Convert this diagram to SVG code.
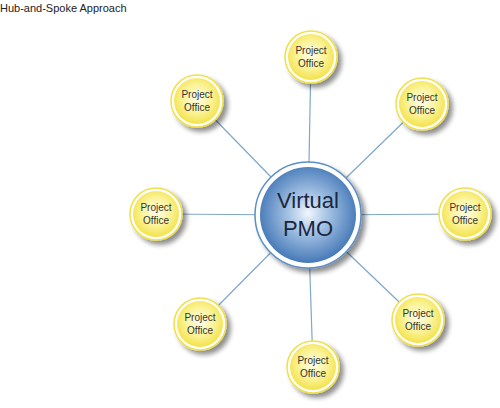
<svg xmlns="http://www.w3.org/2000/svg" width="500" height="408" viewBox="0 0 500 408">
<defs>
<radialGradient id="gy" cx="0.5" cy="0.45" r="0.55">
<stop offset="0" stop-color="#fffde8"/>
<stop offset="0.55" stop-color="#fbf39a"/>
<stop offset="1" stop-color="#f3e24a"/>
</radialGradient>
<radialGradient id="gb" cx="0.5" cy="0.48" r="0.55">
<stop offset="0" stop-color="#f2f7fc"/>
<stop offset="0.35" stop-color="#a9c6e6"/>
<stop offset="1" stop-color="#3d72b4"/>
</radialGradient>
<filter id="sh" x="-30%" y="-30%" width="170%" height="170%">
<feGaussianBlur in="SourceAlpha" stdDeviation="2.5"/>
<feOffset dx="4" dy="4" result="b"/>
<feComponentTransfer><feFuncA type="linear" slope="0.45"/></feComponentTransfer>
<feMerge><feMergeNode/><feMergeNode in="SourceGraphic"/></feMerge>
</filter>
</defs>
<style>
.title{font-family:"Liberation Sans",Arial,sans-serif;font-size:11px;fill:#222}
.spoke{stroke:#7fa7c8;stroke-width:1.2;fill:none}
.po .ring{fill:#ffffff;stroke:#f0e04a;stroke-width:1.5}
.po .core{fill:url(#gy)}
.po text{font-family:"Liberation Sans",Arial,sans-serif;font-size:10px;fill:#333;text-anchor:middle}
.hub .ring{fill:#ffffff;stroke:#5b8fc9;stroke-width:1.5}
.hub .core{fill:url(#gb)}
.hub text{font-family:"Liberation Sans",Arial,sans-serif;font-size:22px;fill:#1a2740;text-anchor:middle}
</style>
<text class="title" x="0" y="12">Hub-and-Spoke Approach</text>
<g id="connectors">
<line class="spoke" x1="308" y1="215" x2="311" y2="57"/>
<line class="spoke" x1="308" y1="215" x2="422" y2="104"/>
<line class="spoke" x1="308" y1="215" x2="465" y2="214"/>
<line class="spoke" x1="308" y1="215" x2="418" y2="320"/>
<line class="spoke" x1="308" y1="215" x2="313" y2="367"/>
<line class="spoke" x1="308" y1="215" x2="200" y2="324"/>
<line class="spoke" x1="308" y1="215" x2="156" y2="214"/>
<line class="spoke" x1="308" y1="215" x2="197" y2="101"/>
</g>
<g id="hub" class="hub">
<circle class="ring" cx="308" cy="215" r="53" filter="url(#sh)"/>
<circle class="core" cx="308" cy="215" r="48"/>
<text x="308" y="208">Virtual</text>
<text x="308" y="236">PMO</text>
</g>
<g id="po-top" class="po">
<circle class="ring" cx="311" cy="57" r="26" filter="url(#sh)"/>
<circle class="core" cx="311" cy="57" r="23"/>
<text x="311" y="54">Project</text><text x="311" y="67">Office</text>
</g>
<g id="po-topright" class="po">
<circle class="ring" cx="422" cy="104" r="26" filter="url(#sh)"/>
<circle class="core" cx="422" cy="104" r="23"/>
<text x="422" y="101">Project</text><text x="422" y="114">Office</text>
</g>
<g id="po-right" class="po">
<circle class="ring" cx="465" cy="214" r="26" filter="url(#sh)"/>
<circle class="core" cx="465" cy="214" r="23"/>
<text x="465" y="211">Project</text><text x="465" y="224">Office</text>
</g>
<g id="po-bottomright" class="po">
<circle class="ring" cx="418" cy="320" r="26" filter="url(#sh)"/>
<circle class="core" cx="418" cy="320" r="23"/>
<text x="418" y="317">Project</text><text x="418" y="330">Office</text>
</g>
<g id="po-bottom" class="po">
<circle class="ring" cx="313" cy="367" r="26" filter="url(#sh)"/>
<circle class="core" cx="313" cy="367" r="23"/>
<text x="313" y="364">Project</text><text x="313" y="377">Office</text>
</g>
<g id="po-bottomleft" class="po">
<circle class="ring" cx="200" cy="324" r="26" filter="url(#sh)"/>
<circle class="core" cx="200" cy="324" r="23"/>
<text x="200" y="321">Project</text><text x="200" y="334">Office</text>
</g>
<g id="po-left" class="po">
<circle class="ring" cx="156" cy="214" r="26" filter="url(#sh)"/>
<circle class="core" cx="156" cy="214" r="23"/>
<text x="156" y="211">Project</text><text x="156" y="224">Office</text>
</g>
<g id="po-topleft" class="po">
<circle class="ring" cx="197" cy="101" r="26" filter="url(#sh)"/>
<circle class="core" cx="197" cy="101" r="23"/>
<text x="197" y="98">Project</text><text x="197" y="111">Office</text>
</g>
</svg>
